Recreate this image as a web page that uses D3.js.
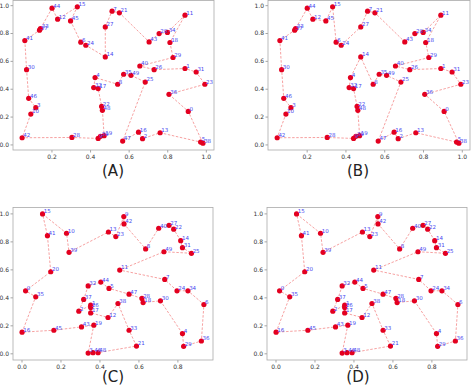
<!DOCTYPE html>
<html>
<head>
<meta charset="utf-8">
<script src="https://cdn.jsdelivr.net/npm/d3@7"></script>
<style>
  body { margin: 0; background: #fff; }
  svg { display: block; }
</style>
</head>
<body>
<script>
// city set used by panels A and B
const cityIdsAB = [41, 37, 33, 44, 12, 15, 45, 6, 24, 14, 27, 7, 21, 43, 20, 34, 11, 18, 29, 40,
  26, 1, 31, 23, 36, 0, 5, 38, 13, 2, 16, 47, 25, 49, 35, 8, 4, 32, 17, 22,
  48, 19, 39, 9, 28, 42, 10, 3, 46, 30];
const cityXAB = [0.062, 0.138, 0.143, 0.203, 0.232, 0.334, 0.299, 0.352, 0.378, 0.479, 0.479, 0.514, 0.552, 0.706, 0.758, 0.801, 0.892, 0.814, 0.830, 0.658,
  0.732, 0.892, 0.950, 0.995, 0.809, 0.909, 0.973, 0.985, 0.763, 0.672, 0.651, 0.569, 0.686, 0.612, 0.574, 0.543, 0.426, 0.419, 0.442, 0.460,
  0.464, 0.473, 0.454, 0.442, 0.306, 0.048, 0.093, 0.119, 0.082, 0.071];
const cityYAB = [0.746, 0.820, 0.832, 0.978, 0.899, 0.988, 0.887, 0.734, 0.712, 0.628, 0.844, 0.957, 0.945, 0.736, 0.796, 0.804, 0.928, 0.732, 0.624, 0.563,
  0.537, 0.545, 0.520, 0.432, 0.360, 0.237, 0.017, 0.009, 0.084, 0.041, 0.088, 0.024, 0.448, 0.496, 0.504, 0.432, 0.480, 0.408, 0.401, 0.273,
  0.245, 0.063, 0.058, 0.043, 0.050, 0.048, 0.218, 0.264, 0.331, 0.537];

// city set used by panels C and D
const cityIdsCD = [15, 41, 10, 39, 13, 23, 9, 42, 8, 40, 27, 22, 14, 31, 25, 49, 11, 7, 20, 0,
  35, 16, 45, 43, 19, 12, 32, 44, 5, 37, 1, 26, 17, 2, 38, 47, 28, 18, 30, 24,
  34, 6, 36, 29, 4, 33, 21, 3, 46, 48];
const cityXCD = [0.108, 0.133, 0.231, 0.244, 0.446, 0.484, 0.525, 0.526, 0.637, 0.704, 0.757, 0.781, 0.817, 0.826, 0.872, 0.731, 0.504, 0.735, 0.150, 0.021,
  0.073, 0.003, 0.166, 0.308, 0.371, 0.444, 0.342, 0.407, 0.449, 0.319, 0.355, 0.355, 0.355, 0.294, 0.495, 0.552, 0.618, 0.624, 0.713, 0.798,
  0.854, 0.936, 0.923, 0.832, 0.826, 0.552, 0.590, 0.342, 0.367, 0.393];
const cityYCD = [0.996, 0.841, 0.858, 0.722, 0.867, 0.834, 0.977, 0.925, 0.746, 0.894, 0.915, 0.887, 0.805, 0.755, 0.715, 0.726, 0.595, 0.528, 0.583, 0.447,
  0.404, 0.151, 0.165, 0.189, 0.201, 0.256, 0.482, 0.509, 0.464, 0.385, 0.344, 0.328, 0.289, 0.301, 0.356, 0.423, 0.392, 0.363, 0.375, 0.447,
  0.447, 0.349, 0.088, 0.050, 0.141, 0.165, 0.052, 0.002, 0.005, 0.005];

// visiting order of each tour
const tourA = [41, 37, 33, 44, 12, 15, 45, 6, 24, 14, 27, 7, 21, 43, 20, 34, 11, 18, 29, 40, 26, 1, 31, 23, 36, 0, 38, 5, 13, 2,
  16, 47, 25, 49, 35, 8, 4, 32, 17, 22, 48, 19, 39, 9, 28, 42, 10, 3, 46, 30];
const tourB = [41, 37, 33, 44, 12, 45, 15, 6, 24, 27, 7, 21, 43, 20, 34, 11, 18, 29, 40, 26, 1, 31, 23, 36, 0, 38, 5, 13, 2,
  16, 47, 25, 49, 35, 8, 14, 4, 32, 17, 22, 48, 19, 39, 9, 28, 42, 10, 3, 46, 30];
const tourC = [15, 10, 39, 13, 23, 9, 42, 8, 40, 27, 22, 14, 31, 25, 49, 11, 7, 24, 34, 6, 36, 29, 4, 30, 18, 28, 47, 5, 44, 32,
  37, 2, 1, 26, 17, 12, 38, 33, 21, 48, 46, 3, 19, 43, 45, 16, 35, 0, 20, 41];
const tourD = [15, 10, 39, 13, 23, 9, 42, 8, 40, 27, 22, 14, 31, 25, 49, 11, 7, 24, 34, 6, 36, 29, 4, 30, 18, 28, 47, 5, 44, 32,
  37, 2, 1, 26, 17, 12, 38, 33, 21, 48, 46, 3, 19, 43, 45, 16, 35, 0, 20, 41];

const tickVals = [0.0, 0.2, 0.4, 0.6, 0.8, 1.0];

const W = 474, H = 386;
const svg = d3.select("body").append("svg").attr("width", W).attr("height", H);

function makeCities(ids, xs, ys) {
  return ids.map((id, i) => ({ id: id, x: xs[i], y: ys[i] }));
}
const citiesAB = makeCities(cityIdsAB, cityXAB, cityYAB);
const citiesCD = makeCities(cityIdsCD, cityXCD, cityYCD);

const panels = [
  { cities: citiesAB, tour: tourA, l: 13, r: 214, t: 0, b: 150, cap: "(A)", cx: 113, cy: 176 },
  { cities: citiesAB, tour: tourB, l: 268, r: 470, t: 0, b: 150, cap: "(B)", cx: 358, cy: 176 },
  { cities: citiesCD, tour: tourC, l: 13, r: 213, t: 207, b: 360, cap: "(C)", cx: 113, cy: 382 },
  { cities: citiesCD, tour: tourD, l: 267, r: 467, t: 207, b: 360, cap: "(D)", cx: 358, cy: 382 }
];

// padded extent like matplotlib's default 5% margin
function padded(vals) {
  const e = d3.extent(vals);
  const m = (e[1] - e[0]) * 0.05;
  return [e[0] - m, e[1] + m];
}

panels.forEach(p => {
  const x = d3.scaleLinear().domain(padded(p.cities.map(c => c.x))).range([p.l, p.r]);
  const y = d3.scaleLinear().domain(padded(p.cities.map(c => c.y))).range([p.b, p.t]);
  const byId = new Map(p.cities.map(c => [c.id, c]));
  const g = svg.append("g");

  const xt = tickVals.filter(v => v >= x.domain()[0] - 1e-9 && v <= x.domain()[1]);
  const yt = tickVals.filter(v => v >= y.domain()[0] - 1e-9 && v <= y.domain()[1]);

  const xAxis = g.append("g").attr("transform", "translate(0," + p.b + ")")
    .call(d3.axisBottom(x).tickValues(xt).tickFormat(d3.format(".1f")).tickSize(2.5).tickPadding(2));
  const yAxis = g.append("g").attr("transform", "translate(" + p.l + ",0)")
    .call(d3.axisLeft(y).tickValues(yt).tickFormat(d3.format(".1f")).tickSize(2.5).tickPadding(1.5));
  [xAxis, yAxis].forEach(a => {
    a.select(".domain").remove();
    a.selectAll("line").attr("stroke", "#666").attr("stroke-width", 0.6);
    a.selectAll("text").attr("font-family", "DejaVu Sans").attr("font-size", 6).attr("fill", "#333");
  });

  // frame
  g.append("rect")
    .attr("x", p.l).attr("y", p.t + 0.5)
    .attr("width", p.r - p.l).attr("height", p.b - p.t - 0.5)
    .attr("fill", "none").attr("stroke", "#aaa").attr("stroke-width", 0.8);

  // closed tour
  const route = p.tour.concat([p.tour[0]]).map(id => byId.get(id));
  g.append("path")
    .datum(route)
    .attr("d", d3.line().x(d => x(d.x)).y(d => y(d.y)))
    .attr("fill", "none")
    .attr("stroke", "#ee4a4a")
    .attr("stroke-opacity", 0.75)
    .attr("stroke-width", 0.7)
    .attr("stroke-dasharray", "2.5,1.6");

  g.selectAll("circle.city").data(p.cities).enter().append("circle")
    .attr("class", "city")
    .attr("cx", d => x(d.x)).attr("cy", d => y(d.y))
    .attr("r", 2.6)
    .attr("fill", "#e3001f");

  g.selectAll("text.lab").data(p.cities).enter().append("text")
    .attr("class", "lab")
    .attr("x", d => x(d.x) + 1.2).attr("y", d => y(d.y) - 0.6)
    .attr("font-family", "DejaVu Sans").attr("font-size", 5.5)
    .attr("fill", "#4848f0")
    .text(d => d.id);

  svg.append("text")
    .attr("x", p.cx).attr("y", p.cy)
    .attr("text-anchor", "middle")
    .attr("font-family", "DejaVu Sans").attr("font-size", 15)
    .attr("fill", "#222")
    .text(p.cap);
});
</script>
</body>
</html>
